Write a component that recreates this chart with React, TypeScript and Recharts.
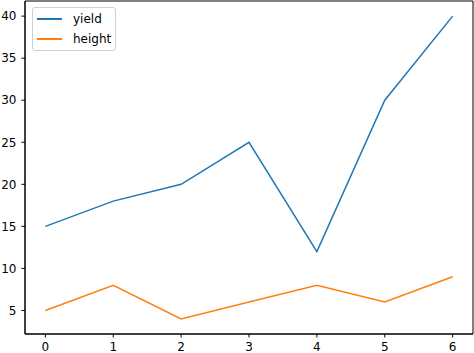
import { LineChart, Line, XAxis, YAxis, ReferenceArea } from "recharts";

const steps = [0, 1, 2, 3, 4, 5, 6];
const yieldValues = [15, 18, 20, 25, 12, 30, 40];
const heightValues = [5, 8, 4, 6, 8, 6, 9];
const yTicks = [5, 10, 15, 20, 25, 30, 35, 40];

const data = steps.map((x, i) => ({ x, yield: yieldValues[i], height: heightValues[i] }));

const font = "'DejaVu Sans', sans-serif";
const tickStyle = { fill: "#000", fontSize: 12, fontFamily: font };

const series = [
  { key: "yield", color: "#1f77b4" },
  { key: "height", color: "#ff7f0e" },
];

function LegendBox() {
  return (
    <div
      style={{
        position: "absolute",
        left: 32,
        top: 7,
        border: "1px solid #d0d0d0",
        borderRadius: 3,
        background: "rgba(255,255,255,0.8)",
        padding: "1px 4px 1px 4px",
        fontFamily: font,
        fontSize: 12,
        color: "#000",
      }}
    >
      {series.map((s) => (
        <div key={s.key} style={{ display: "flex", alignItems: "center", height: 20 }}>
          <span style={{ display: "inline-block", width: 25, height: 2, background: s.color, marginRight: 11 }} />
          <span>{s.key}</span>
        </div>
      ))}
    </div>
  );
}

export default function App() {
  return (
    <div style={{ position: "absolute", left: 0, top: 0, background: "#fff" }}>
      <LineChart width={474} height={353} data={data} margin={{ top: 1, right: 1, left: 0, bottom: 0 }}>
        <XAxis
          dataKey="x"
          type="number"
          domain={[-0.3, 6.3]}
          ticks={steps}
          stroke="#000"
          tickSize={3.5}
          tickMargin={5}
          height={19}
          tick={tickStyle}
          allowDecimals={false}
        />
        <YAxis
          type="number"
          domain={[2.2, 41.8]}
          ticks={yTicks}
          stroke="#000"
          tickSize={3.5}
          tickMargin={5}
          width={25}
          tick={tickStyle}
        />
        <ReferenceArea x1={-0.3} x2={6.3} y1={2.2} y2={41.8} fill="none" stroke="#000" strokeWidth={1} ifOverflow="visible" />
        {series.map((s) => (
          <Line key={s.key} type="linear" dataKey={s.key} stroke={s.color} strokeWidth={1.5} dot={false} isAnimationActive={false} />
        ))}
      </LineChart>
      <LegendBox />
    </div>
  );
}
